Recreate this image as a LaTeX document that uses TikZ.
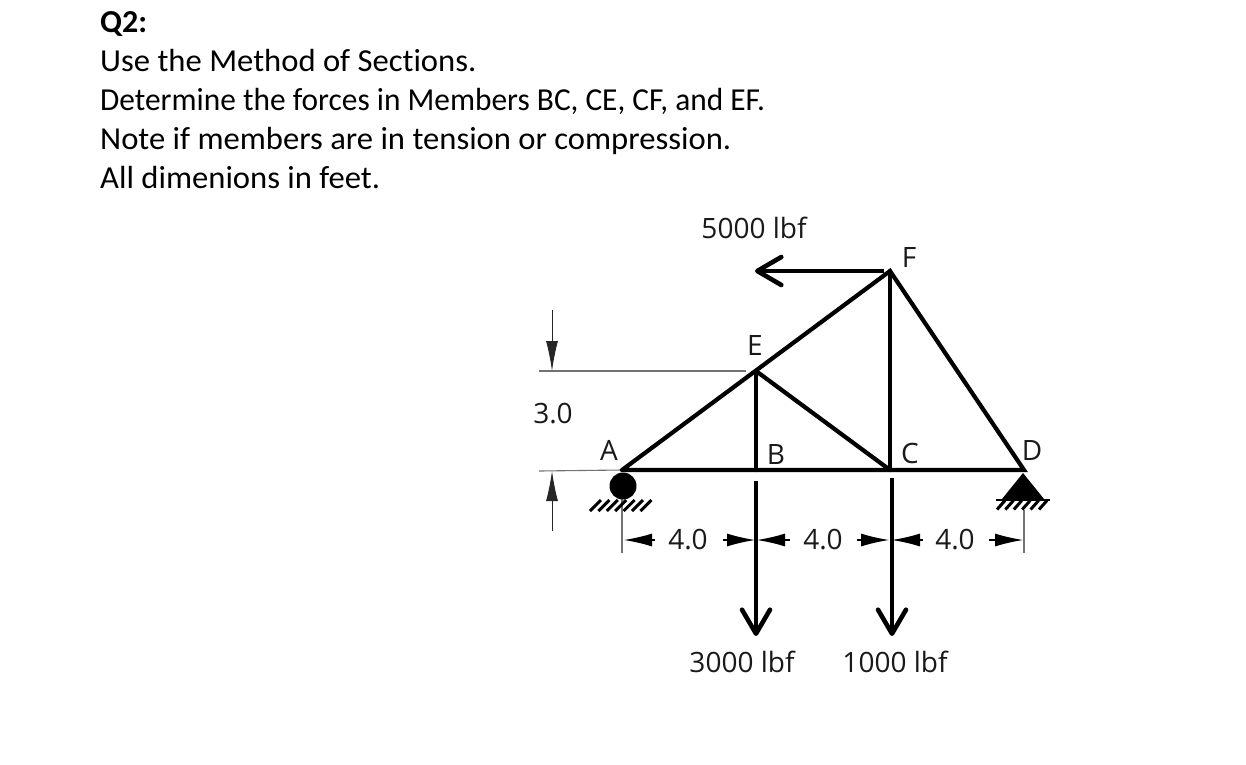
\documentclass[tikz,border=0pt]{standalone}
\usepackage{fontspec}
\setmainfont[Ligatures=NoCommon]{Carlito}
\newfontfamily\lab{Open Sans}
\usetikzlibrary{arrows.meta}
\tikzset{
 x=1pt,y=-1pt,
 member/.style={line width=4.2pt,line cap=round},
 load/.style={line width=4.6pt,-{Straight Barb[length=24pt,width=28pt,line width=4.6pt,round]}},
 dimline/.style={line width=1.1pt,draw=black!55},
 dimarrow/.style={line width=1pt,draw=black!85,-{Latex[length=30pt,width=12pt]}},
 harrow/.style={line width=1.1pt,draw=black,-{Latex[length=28pt,width=13pt]}},
 hatch/.style={line width=3pt},
 txt/.style={anchor=base west,inner sep=0pt,font=\fontsize{32}{32}\selectfont},
 lbl/.style={inner sep=0pt,font=\lab\fontsize{28}{28}\selectfont,text=black!90},
 pin/.style={circle,fill=black,inner sep=0pt,minimum size=27pt},
}
\begin{document}
\begin{tikzpicture}
\useasboundingbox[fill=white] (0,0) rectangle (1246,764);
% text
\node[txt,font=\bfseries\fontsize{32}{32}\selectfont] (t0) at (100,32) {Q2:};
\node[txt] (t1) at (100,71) {\scalebox{1.02}[1]{Use the Method of Sections.}};
\node[txt] (t2) at (100,110) {\scalebox{0.98}[1]{Determine the forces in Members BC, CE, CF, and EF.}};
\node[txt] (t3) at (100,149) {\scalebox{1.02}[1]{Note if members are in tension or compression.}};
\node[txt] (t4) at (100,188) {\scalebox{1.02}[1]{All dimenions in feet.}};
% joints
\coordinate (A) at (622,470);
\coordinate (B) at (756,470);
\coordinate (C) at (890,470);
\coordinate (D) at (1024,470);
\coordinate (E) at (756,371);
\coordinate (F) at (890,271);
% dimension lines
\coordinate (e1) at (539,371); \coordinate (e2) at (746,371);
\coordinate (a1) at (539,471);
\coordinate (a2) at (622,490);\coordinate (a3) at (622,553);
\coordinate (d2) at (1024,510);\coordinate (d3) at (1024,553);
\draw[dimline] (e1)--(e2);
\draw[dimline] (a1)--(A);
\draw[dimline] (a2)--(a3);
\draw[dimline] (d2)--(d3);
\coordinate (u1) at (552,310); \coordinate (u2) at (552,371);
\coordinate (l1) at (552,531); \coordinate (l2) at (552,471);
\draw[dimarrow] (u1)--(u2);
\draw[dimarrow] (l1)--(l2);
% truss
\draw[member] (A)--(D)--(F)--(A);
\draw[member] (E)--(B);
\draw[member] (E)--(C);
\draw[member] (F)--(C);
% loads
\coordinate (f1) at (884,271); \coordinate (f2) at (755,271);
\coordinate (b1) at (756,481); \coordinate (b2) at (756,636);
\coordinate (c1) at (892,478); \coordinate (c2) at (892,636);
\draw[load] (f1)--(f2);
\draw[load] (b1)--(b2);
\draw[load] (c1)--(c2);
% support A
\node[pin] (pinA) at (623,486) {};
\foreach \x in {590,598.4,...,644}{\draw[hatch] (\x,511)--(\x+11,500);}
% support D
\fill (1023,473)--(1044,499)--(1002,499)--cycle;
\draw[line width=2.4pt] (996,500)--(1050,500);
\foreach \x in {997,1005.4,...,1042}{\draw[hatch] (\x,509.5)--(\x+8,500.5);}
% dimension arrows
\coordinate (h1s) at (655,540);\coordinate (h1e) at (624,540);
\coordinate (h2s) at (723,540);\coordinate (h2e) at (755,540);
\coordinate (h3s) at (790,540);\coordinate (h3e) at (757,540);
\coordinate (h4s) at (857,540);\coordinate (h4e) at (889,540);
\coordinate (h5s) at (923,540);\coordinate (h5e) at (892,540);
\coordinate (h6s) at (989,540);\coordinate (h6e) at (1023,540);
\foreach \s/\e in {h1s/h1e,h2s/h2e,h3s/h3e,h4s/h4e,h5s/h5e,h6s/h6e}
 \draw[harrow] (\s)--(\e);
% labels
\node[lbl] (lA) at (609,450) {A};
\node[lbl] (lB) at (776,454) {B};
\node[lbl] (lC) at (910,453) {C};
\node[lbl] (lD) at (1032,450) {D};
\node[lbl] (lE) at (755,345) {E};
\node[lbl] (lF) at (909,257) {F};
\node[lbl] (l30) at (553,414) {3.0};
\node[lbl] (d1) at (688,540) {4.0};
\node[lbl] (d2l) at (823,540) {4.0};
\node[lbl] (d3l) at (955,540) {4.0};
\node[lbl] (l5) at (754,228) {5000 lbf};
\node[lbl] (l3) at (742,662) {3000 lbf};
\node[lbl] (l1k) at (895,662) {1000 lbf};
\end{tikzpicture}
\end{document}
